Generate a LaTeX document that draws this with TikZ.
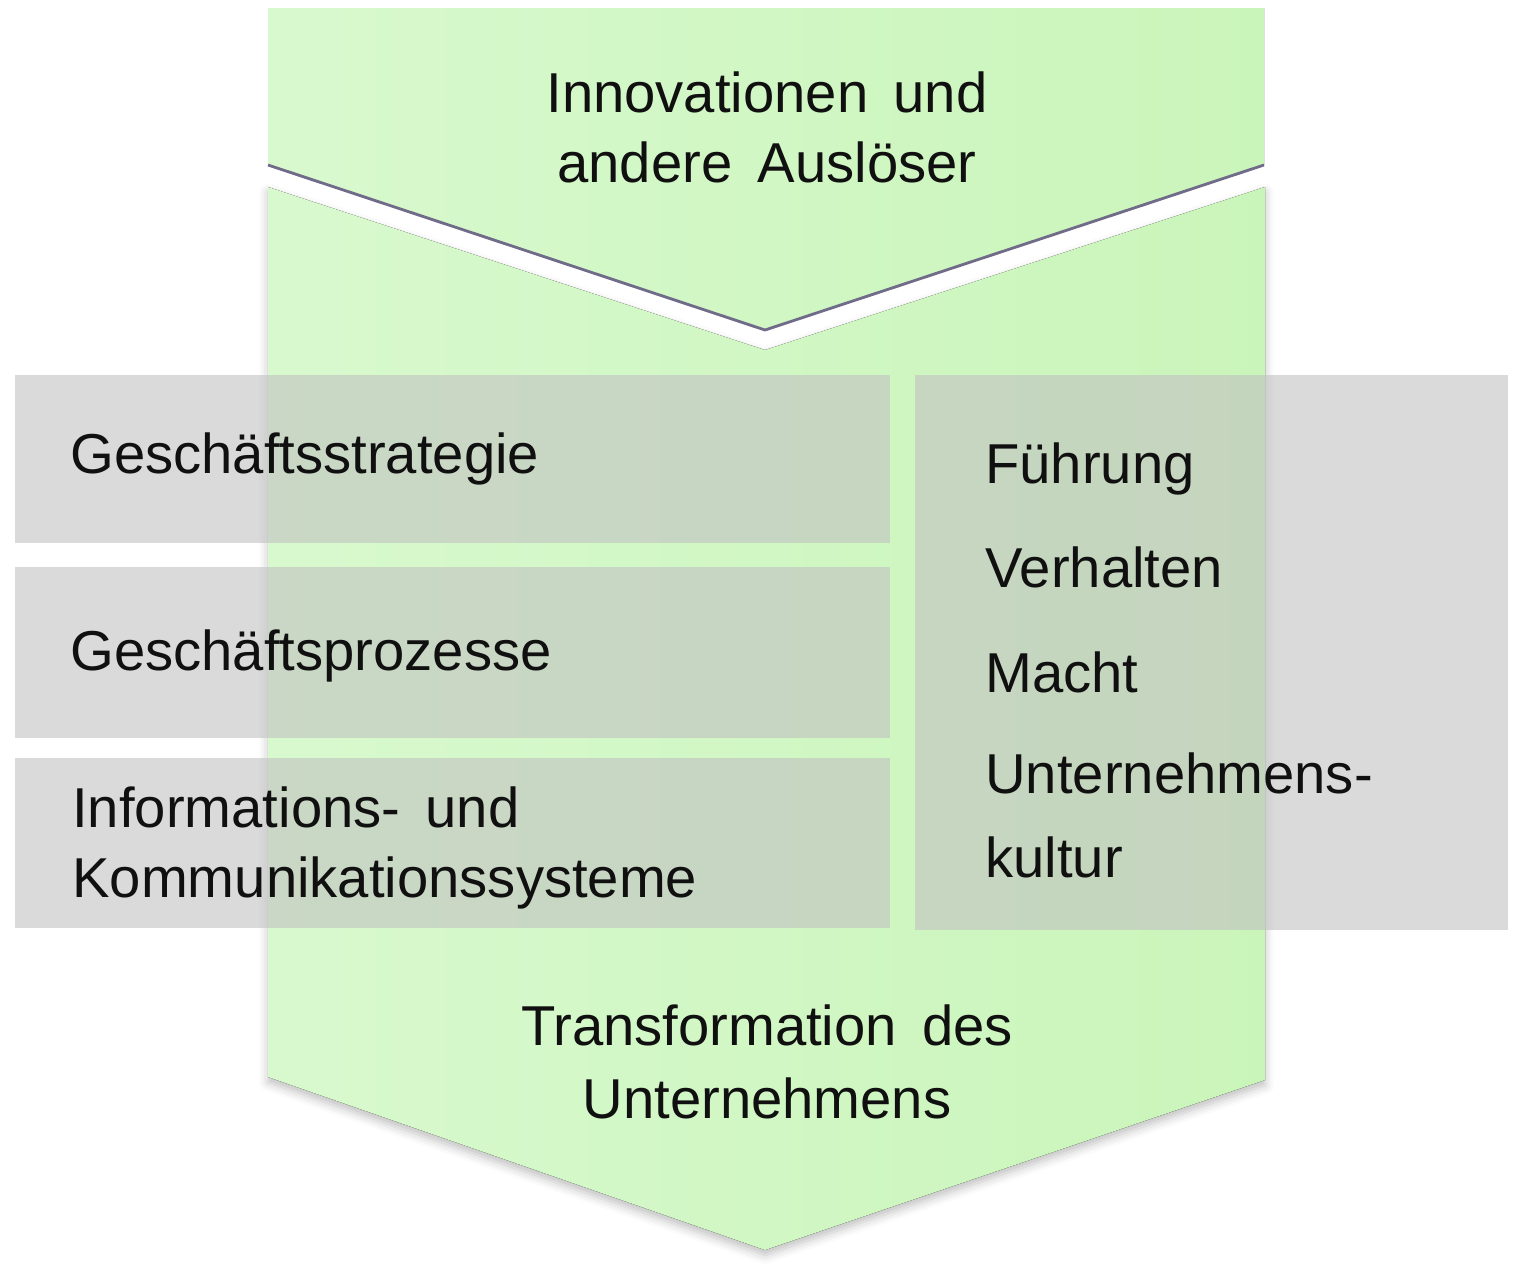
\documentclass[tikz,border=0pt]{standalone}
\usepackage{fontspec}
\setmainfont{Liberation Sans}
\usepackage{xcolor}
\usetikzlibrary{positioning, shadows, shadows.blur}
\definecolor{chevlight}{HTML}{D8F9CE}
\definecolor{chevdark}{HTML}{CAF5BA}
\definecolor{bandgray}{HTML}{C1C1C1}
\definecolor{edgeviolet}{HTML}{6F6B88}
\definecolor{inkblack}{HTML}{101010}
\newcommand{\labelfont}{\fontsize{32}{40}\selectfont\spaceskip=0.45em plus 0.1em minus 0.05em\relax}

\begin{document}
\begin{tikzpicture}[x=0.02cm, y=-0.02cm,
  chevron/.style={left color=chevlight, right color=chevdark, draw=none},
  band/.style={fill=bandgray, fill opacity=0.6, draw=none},
  label/.style={font=\labelfont, text=inkblack, inner sep=0pt},
  vedge/.style={draw=edgeviolet, line width=1.6pt, line join=round}
]
  \useasboundingbox (0,0) rectangle (1524,1272);

  % green arrows
  \fill[chevron, blur shadow={shadow xshift=0pt, shadow yshift=-3pt, shadow blur radius=5pt, shadow opacity=25}]
    (268,187) -- (765,350) -- (1265,187) -- (1265,1080) -- (765,1250) -- (268,1077) -- cycle;
  \fill[chevron] (268,8) -- (1264,8) -- (1264,165) -- (765,330) -- (268,165) -- cycle;
  \draw[white, line width=4pt, opacity=0.8] (268,174) -- (765,340) -- (1264,174);
  \draw[vedge] (268,165) -- (765,330) -- (1264,165);

  % gray bands
  \fill[band] (15,375) rectangle (890,543);
  \fill[band] (15,567) rectangle (890,738);
  \fill[band] (15,758) rectangle (890,928);
  \fill[band] (915,375) rectangle (1508,930);

  % texts
  \node[label, anchor=base] (trig1) at (767,112) {Innovationen und};
  \node[label, anchor=base] (trig2) at (767,182) {andere Auslöser};

  \node[label, anchor=base west] (strat) at (70,473) {Geschäftsstrategie};
  \node[label, anchor=base west] (proc) at (70,670) {Geschäftsprozesse};
  \node[label, anchor=base west] (iks1) at (72,827) {Informations- und};
  \node[label, anchor=base west] (iks2) at (72,897) {Kommunikationssysteme};

  \node[label, anchor=base west] (lead) at (985,483) {Führung};
  \node[label, anchor=base west] (behav) at (985,587) {Verhalten};
  \node[label, anchor=base west] (power) at (985,692) {Macht};
  \node[label, anchor=base west] (cult1) at (985,793) {Unternehmens-};
  \node[label, anchor=base west] (cult2) at (985,877) {kultur};

  \node[label, anchor=base] (trans1) at (767,1045) {Transformation des};
  \node[label, anchor=base] (trans2) at (767,1118) {Unternehmens};
\end{tikzpicture}
\end{document}
